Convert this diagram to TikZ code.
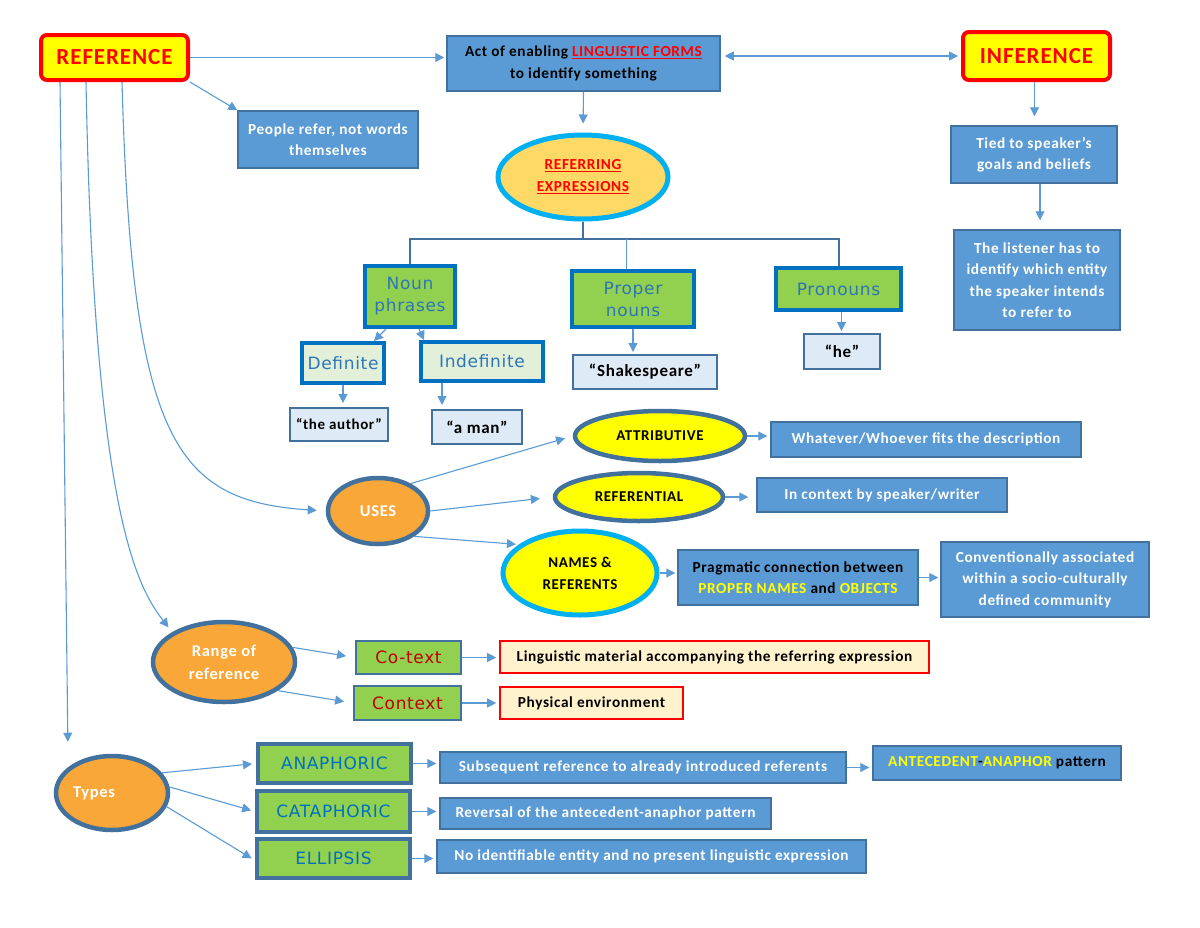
\documentclass[tikz,border=0pt]{standalone}
\usepackage{fontspec}
\setmainfont{Carlito}[LetterSpace=4]
\newfontfamily\vfont{DejaVu Sans}[LetterSpace=4]
\usetikzlibrary{shapes.geometric,arrows.meta,calc}
\definecolor{boxblue}{HTML}{5B9BD5}
\definecolor{boxedge}{HTML}{41719C}
\definecolor{vblue}{HTML}{0070C0}
\definecolor{gfill}{HTML}{92D050}
\definecolor{lgfill}{HTML}{E2F0D9}
\definecolor{qfill}{HTML}{DEEBF7}
\definecolor{orfill}{HTML}{F9A738}
\definecolor{gold}{HTML}{FFD966}
\definecolor{cyanedge}{HTML}{00B0F0}
\definecolor{yel}{HTML}{FFFF00}
\definecolor{rd}{HTML}{FF0000}
\definecolor{dred}{HTML}{C00000}
\definecolor{cream}{HTML}{FFF2CC}
\definecolor{nptext}{HTML}{2E75B6}
\newcommand\Bx[7]{\node[#6, minimum width={#4-#2}, minimum height={#5-#3}] (#1) at ({(#2+#4)/2},{(#3+#5)/2}) {#7};}
\newcommand\El[7]{\node[ellipse, inner sep=0pt, #6, minimum width={2*#4}, minimum height={2*#5}] (#1) at (#2,#3) {#7};}
\begin{document}
\begin{tikzpicture}[x=1pt,y=-1pt,
  bluebox/.style={draw=boxedge, line width=1.5pt, fill=boxblue, text=white, align=center, inner sep=1pt,
    font=\bfseries\fontsize{15.3}{21.5}\selectfont},
  titlebox/.style={draw=rd, line width=4pt, fill=yel, text=rd, rounded corners=6pt,
    font=\bfseries\fontsize{23}{26}\selectfont},
  greenbig/.style={draw=vblue, line width=4pt, fill=gfill, text=nptext, align=center, inner sep=1pt,
    font=\vfont\fontsize{17}{22}\selectfont},
  lgbox/.style={draw=vblue, line width=4pt, fill=lgfill, text=nptext, inner sep=1pt,
    font=\vfont\fontsize{17}{20}\selectfont},
  quotebox/.style={draw=boxedge, line width=2pt, fill=qfill, text=black, inner sep=1pt,
    font=\bfseries\fontsize{17}{20}\selectfont},
  typebox/.style={draw=boxedge, line width=4pt, fill=gfill, text=vblue, inner sep=1pt,
    font=\vfont\fontsize{17}{20}\selectfont},
  ctxbox/.style={draw=boxedge, line width=2pt, fill=gfill, text=dred, inner sep=1pt,
    font=\vfont\fontsize{17}{20}\selectfont},
  creambox/.style={draw=rd, line width=1.6pt, fill=cream, text=black, inner sep=1pt,
    font=\bfseries\fontsize{15.3}{19}\selectfont},
  orell/.style={draw=boxedge, line width=4.5pt, fill=orfill, text=white, align=center,
    font=\bfseries\fontsize{16.5}{23}\selectfont},
  yell/.style={draw=boxedge, line width=4.5pt, fill=yel, text=black, align=center,
    font=\bfseries\fontsize{15}{22}\selectfont},
  conn/.style={draw=boxblue, line width=1.1pt, -{Triangle[length=9pt,width=9pt]}},
  tree/.style={draw=boxedge, line width=2pt}
]
\useasboundingbox[fill=white] (0,0) rectangle (1200,927);

% top row
\Bx{ref}{41}{35}{188}{80}{titlebox}{REFERENCE}
\Bx{act}{447}{36}{720}{91}{bluebox,text=black}{Act of enabling \textcolor{rd}{\underline{LINGUISTIC FORMS}}\\to identify something}
\Bx{inf}{963}{32}{1110}{80}{titlebox}{INFERENCE}
\Bx{people}{238}{111}{418}{168}{bluebox}{People refer, not words\\themselves}
\Bx{tied}{951}{126}{1117}{183}{bluebox}{Tied to speaker’s\\goals and beliefs}
\Bx{lis}{954}{230}{1120}{330}{bluebox}{The listener has to\\identify which entity\\the speaker intends\\to refer to}
\El{rex}{583}{177}{85}{42}{draw=cyanedge, line width=5pt, fill=gold, text=rd, align=center, font=\bfseries\fontsize{15.3}{22}\selectfont}{\underline{REFERRING}\\\underline{EXPRESSIONS}}

% tree
\Bx{np}{365}{266}{455}{327}{greenbig}{Noun\\phrases}
\Bx{pn}{572}{271}{694}{327}{greenbig}{Proper\\nouns}
\Bx{pro}{776}{268}{901}{310}{greenbig}{Pronouns}
\Bx{def}{302}{343}{384}{383}{lgbox}{Definite}
\Bx{indef}{421}{342}{543}{381}{lgbox}{Indefinite}
\Bx{author}{290}{408}{388}{441}{quotebox, font=\bfseries\fontsize{15}{18}\selectfont}{“the author”}
\Bx{aman}{432}{410}{522}{444}{quotebox}{“a man”}
\Bx{sh}{573}{355}{717}{389}{quotebox}{“Shakespeare”}
\Bx{he}{804}{334}{880}{369}{quotebox}{“he”}

\draw[tree] (rex.south) -- ++(0,17) coordinate (tj);
\draw[tree] (np.north) |- (tj) -| (pro.north);
\draw[draw=boxblue, line width=1pt] ([xshift=-7pt]pn.north) -- ([xshift=-7pt]pn.north |- tj);

% uses
\El{uses}{378}{511}{50}{33}{orell}{USES}
\El{attr}{660}{436}{85}{25}{yell}{ATTRIBUTIVE}
\El{refl}{639}{497}{84}{24}{yell}{REFERENTIAL}
\El{names}{580}{573}{77}{42}{yell, draw=cyanedge, line width=5pt}{NAMES \&\\REFERENTS}
\Bx{what}{771}{422}{1081}{457}{bluebox}{Whatever/Whoever fits the description}
\Bx{inctx}{757}{478}{1007}{512}{bluebox}{In context by speaker/writer}
\Bx{prag}{678}{550}{918}{605}{bluebox,text=black}{Pragmatic connection between\\\textcolor{yel}{PROPER NAMES} and \textcolor{yel}{OBJECTS}}
\Bx{conv}{941}{542}{1149}{617}{bluebox}{Conventionally associated\\within a socio-culturally\\defined community}

% range
\El{range}{224}{662}{71}{40}{orell}{Range of\\reference}
\Bx{cotext}{356}{641}{461}{674}{ctxbox}{Co-text}
\Bx{context}{354}{686}{461}{720}{ctxbox}{Context}
\Bx{ling}{500}{641}{929}{673}{creambox}{Linguistic material accompanying the referring expression}
\Bx{phys}{500}{687}{683}{719}{creambox}{Physical environment}

% types
\El{types}{112}{793}{56}{37}{orell}{Types\hspace*{36pt}}
\Bx{anaph}{258}{744}{411}{783}{typebox}{ANAPHORIC}
\Bx{cata}{257}{791}{410}{832}{typebox}{CATAPHORIC}
\Bx{ell}{257}{839}{410}{878}{typebox}{ELLIPSIS}
\Bx{subs}{440}{752}{846}{783}{bluebox}{Subsequent reference to already introduced referents}
\Bx{ante}{873}{746}{1121}{780}{bluebox,text=yel}{ANTECEDENT\textcolor{black}{-}ANAPHOR \textcolor{black}{pattern}}
\Bx{rev}{440}{798}{771}{829}{bluebox}{Reversal of the antecedent-anaphor pattern}
\Bx{noid}{437}{840}{866}{873}{bluebox}{No identifiable entity and no present linguistic expression}

% connectors top
\draw[conn, shorten >=2pt] (ref.east) -- (act.west |- ref.east);
\draw[conn, {Triangle[length=9pt,width=9pt]}-{Triangle[length=9pt,width=9pt]}, shorten <=4pt, shorten >=3pt] (act.east |- inf.west) -- (inf.west);
\draw[conn] (ref.south east) -- (people.north west);
\draw[conn, shorten >=9pt] (act.south) -- (rex.north);
\draw[conn, shorten >=9pt] ([xshift=-2pt]inf.south) -- ([xshift=-2pt]inf.south |- tied.north);
\draw[conn, shorten >=9pt] ([xshift=6pt]tied.south) -- ([xshift=6pt]tied.south |- lis.north);

% tree arrows
\draw[conn] ([xshift=-24pt]np.south) -- ([xshift=31pt]def.north);
\draw[conn] ([xshift=9pt]np.south) -- ([xshift=-58pt]indef.north);
\draw[conn, shorten >=4pt] (def.south) -- (def.south |- author.north);
\draw[conn, shorten >=4pt] ([xshift=-40pt]indef.south) -- ([xshift=-40pt]indef.south |- aman.north);
\draw[conn, shorten >=2pt] (pn.south) -- (pn.south |- sh.north);
\draw[conn, shorten >=2pt] ([xshift=3pt]pro.south) -- ([xshift=3pt]pro.south |- he.north);

% uses arrows
\draw[conn, shorten >=8pt] (uses.40) -- (attr.west);
\draw[conn, shorten >=13pt] (uses.east) -- (refl.west);
\draw[conn, shorten >=3pt] (uses.-35) -- (names.155);
\draw[conn, shorten >=3pt] (attr.east) -- (what.west |- attr.east);
\draw[conn, shorten >=8pt] (refl.east) -- (inctx.west |- refl.east);
\draw[conn, shorten >=2pt] (names.east) -- (prag.west |- names.east);
\draw[conn, shorten >=2pt] (prag.east) -- (conv.west |- prag.east);

% range arrows
\draw[conn, shorten >=9pt] (range.12) -- (cotext.west);
\draw[conn, shorten >=9pt] (range.-28) -- (context.west);
\draw[conn, shorten >=3pt] (cotext.east) -- (ling.west |- cotext.east);
\draw[conn, shorten >=3pt] (context.east) -- (phys.west |- context.east);

% types arrows
\draw[conn, shorten >=4pt] (types.22) -- (anaph.west);
\draw[conn, shorten >=4pt] (types.6) -- (cata.west);
\draw[conn, shorten >=4pt] (types.-14) -- ([yshift=-2pt]ell.west);
\draw[conn, shorten >=3pt] (anaph.east) -- (subs.west |- anaph.east);
\draw[conn, shorten >=3pt] (cata.east) -- (rev.west |- cata.east);
\draw[conn, shorten >=3pt] (ell.east) -- (noid.west |- ell.east);
\draw[conn, shorten >=3pt] (subs.east) -- (ante.west |- subs.east);

% long connectors from REFERENCE
\draw[conn, shorten >=12pt] ([xshift=21pt]ref.south west) -- ([xshift=-44pt]types.north);
\draw[conn, shorten >=6pt] ([xshift=47pt]ref.south west) .. controls +(8,430) and +(-35,-45) .. (range.150);
\draw[conn, shorten >=9pt] ([xshift=83pt]ref.south west) .. controls +(10,360) and +(-150,-10) .. (uses.west);
\end{tikzpicture}
\end{document}
